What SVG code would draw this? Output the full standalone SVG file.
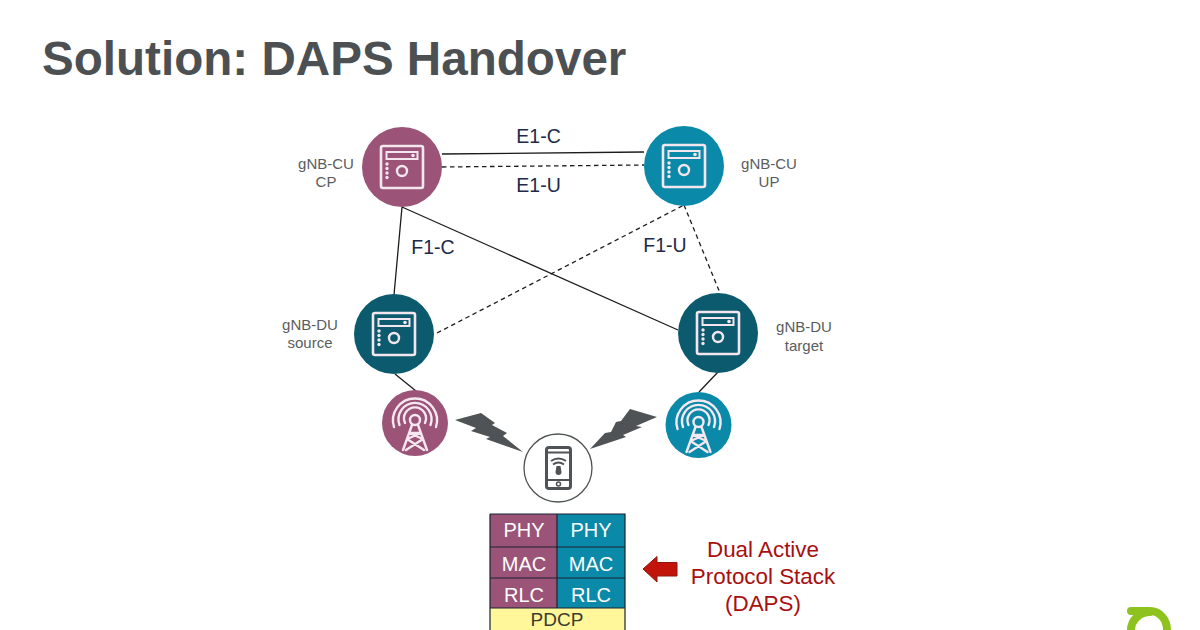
<svg xmlns="http://www.w3.org/2000/svg" width="1200" height="630" viewBox="0 0 1200 630">
<style>
text{font-family:"Liberation Sans",Arial,sans-serif;text-anchor:middle}
.title{font-size:47.6px;font-weight:700;fill:#4d5053;text-anchor:start}
.lbl{font-size:15px;fill:#5a5d60}
.if{font-size:19.5px;fill:#1d2a4a}
.st{font-size:20px;fill:#fff}
.red{font-size:22.4px;fill:#a80f0f}
.c{stroke:#1c1c1c;stroke-width:1.3;fill:none}
.d{stroke-dasharray:4.5 3.5}
.b{fill:#4f5355}
.grid{stroke:#1a2230;stroke-width:1.2;fill:none}
</style>
<defs>
<g id="srv"><rect x="-21" y="-21" width="42" height="42" rx="2" fill="none" stroke="#f3e6ee" stroke-width="2.600"/><rect x="-15.500" y="-15" width="31" height="7" fill="none" stroke="#f3e6ee" stroke-width="2"/><circle cx="11" cy="-11.500" r="1.800" fill="#f3e6ee"/><circle cx="0" cy="4" r="5" fill="none" stroke="#f3e6ee" stroke-width="2.400"/><g fill="#f3e6ee"><circle cx="-15" cy="-3" r="1.700"/><circle cx="-15" cy="1.500" r="1.700"/><circle cx="-15" cy="6" r="1.700"/><circle cx="-15" cy="10.500" r="1.700"/></g></g>
<g id="tower"><g fill="none" stroke="#f6e8f0" stroke-width="2.400" stroke-linecap="round"><path d="M-21 4A22 22 0 1 1 21 4M-15.500 2A16.500 16.500 0 1 1 15.500 2M-10 0A11 11 0 1 1 10 0"/><circle cx="0" cy="-3" r="5"/><path d="M-3 2-12 27M3 2 12 27M-6 10H6M-8 16 9 27M8 16-9 27M-6 10 8 16M6 10-8 16"/></g></g>
</defs>
<text class="title" x="42" y="75">Solution: DAPS Handover</text>
<g id="connectors">
<path class="c" d="M442 154 644 152M402 207 394 295M402 207 678 330M395 374 416 391M718 372 699 392"/>
<path class="c d" d="M442 167 644 165M437 333 684 205M684 205 720 293"/>
<path id="bolt-left" class="b" d="M455 420 481 413 495 423 492 425 507 433 503 436 523 452 486 439 490 437 471 431 476 428Z"/>
<path id="bolt-right" class="b" d="M590 449 605 433 611 432 616 422 621 421 630 409 657 417 636 426 642 427 623 435 626 437Z"/>
</g>
<g id="gnb-cu-cp"><circle cx="402" cy="167" r="40" fill="#9b5378"/><use href="#srv" x="402" y="167"/><text class="lbl" x="326" y="169">gNB-CU</text><text class="lbl" x="326" y="187">CP</text></g>
<g id="gnb-cu-up"><circle cx="684" cy="166" r="40" fill="#0b89a8"/><use href="#srv" x="684" y="166"/><text class="lbl" x="769" y="169">gNB-CU</text><text class="lbl" x="769" y="187">UP</text></g>
<g id="gnb-du-source"><circle cx="394" cy="334" r="40" fill="#0b5a6e"/><use href="#srv" x="394" y="334"/><text class="lbl" x="310" y="330">gNB-DU</text><text class="lbl" x="310" y="348">source</text></g>
<g id="gnb-du-target"><circle cx="718" cy="333" r="40" fill="#0b5a6e"/><use href="#srv" x="718" y="333"/><text class="lbl" x="804" y="332">gNB-DU</text><text class="lbl" x="804" y="351">target</text></g>
<g id="tower-source"><circle cx="415" cy="423" r="33" fill="#9b5378"/><use href="#tower" x="415" y="423"/></g>
<g id="tower-target"><circle cx="698.500" cy="425" r="33" fill="#0b89a8"/><use href="#tower" x="698.500" y="425"/></g>
<g id="ue"><circle cx="558" cy="468" r="34" fill="#fff" stroke="#4f5355" stroke-width="1.300"/><rect x="546.500" y="447.500" width="24" height="41" rx="2.500" fill="none" stroke="#4f5355" stroke-width="3"/><path d="M546.500 452.500H570.500M546.500 480H570.500" stroke="#4f5355" stroke-width="2"/><circle cx="558.500" cy="484" r="2" fill="none" stroke="#4f5355" stroke-width="1.500"/><path d="M551 461Q558.500 456 566 461M553 464.500Q558.500 460.500 564 464.500" fill="none" stroke="#4f5355" stroke-width="2"/><path d="M556.500 466H560.500L561.500 472A3 3 0 0 1 555.500 472Z" fill="#4f5355"/></g>
<g id="stack">
<rect x="490" y="608" width="135" height="22" fill="#fff79a"/>
<rect x="490" y="514" width="67" height="94" fill="#9b5378"/><rect x="557" y="514" width="68" height="94" fill="#0b89a8"/>
<path class="grid" d="M490 514H625V630M490 514V630M557 514V608M490 547H625M490 578H625M490 608H625"/>
<text class="st" x="524" y="537">PHY</text><text class="st" x="591" y="537">PHY</text>
<text class="st" x="524" y="571">MAC</text><text class="st" x="591" y="571">MAC</text>
<text class="st" x="524" y="602">RLC</text><text class="st" x="591" y="602">RLC</text>
<text x="557" y="625.500" font-size="19" fill="#3c3c30">PDCP</text>
</g>
<g id="daps-note"><path d="M643 569 657 556.500V562.500H677V576H657V582Z" fill="#c2140a" stroke="#8c1a10"/>
<text class="red" x="763" y="557">Dual Active</text><text class="red" x="763" y="584">Protocol Stack</text><text class="red" x="763" y="611">(DAPS)</text></g>
<g id="interface-labels"><text class="if" x="538.500" y="143">E1-C</text><text class="if" x="538.500" y="192">E1-U</text><text class="if" x="433" y="254">F1-C</text><text class="if" x="665" y="252">F1-U</text></g>
<path id="logo" d="M1131 611H1150C1160 611 1167 620 1167 630M1131 630C1131 620 1140 612 1150 612" fill="none" stroke="#8dc21f" stroke-width="8" stroke-linecap="round"/>
</svg>
